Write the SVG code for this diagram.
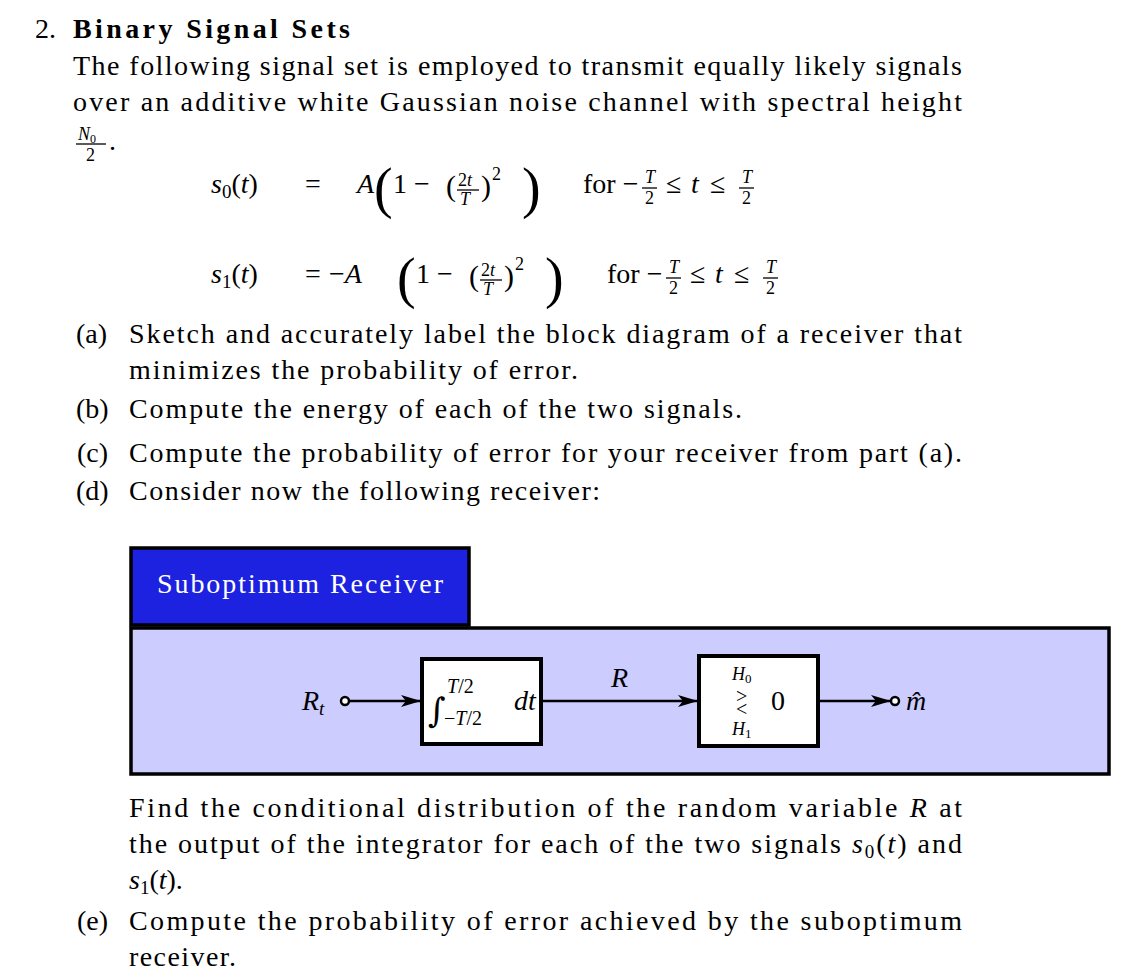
<svg xmlns="http://www.w3.org/2000/svg" width="1142" height="976" viewBox="0 0 1142 976">
<style>
text{font-family:"Liberation Serif","DejaVu Serif",serif;font-size:28px;fill:#000}
.i{font-style:italic}
.s{font-size:18px}
.b{font-size:56px}
.ln{stroke:#000;stroke-width:1.3}
.c{stroke:#000;stroke-width:2.5;fill:none}
.box{fill:#fff;stroke:#000;stroke-width:4}
</style>
<defs>
<marker id="ah" viewBox="0 0 20 12" refX="19" refY="6" markerWidth="20" markerHeight="12" markerUnits="userSpaceOnUse" orient="auto"><path d="M0,0 L20,6 L0,12 L5,6 Z" fill="#000"/></marker>
</defs>
<rect width="1142" height="976" fill="#fff"/>
<text x="35" y="38">2.</text>
<text x="73" y="38" font-weight="bold" textLength="277" lengthAdjust="spacing">Binary Signal Sets</text>
<text x="73" y="75" textLength="889" lengthAdjust="spacing">The following signal set is employed to transmit equally likely signals</text>
<text x="73" y="111" textLength="889" lengthAdjust="spacing">over an additive white Gaussian noise channel with spectral height</text>
<text x="78" y="140" class="s i">N<tspan style="font-size:12px;font-style:normal" dy="3">0</tspan></text>
<line x1="76" y1="144" x2="106" y2="144" class="ln"/>
<text x="86" y="161" class="s">2</text>
<text x="109" y="150">.</text>
<g id="eq0">
<text x="211" y="193" class="i">s<tspan style="font-style:normal;font-size:19px" dy="5">0</tspan><tspan style="font-style:normal" dy="-5">(</tspan>t<tspan style="font-style:normal">)</tspan></text>
<text x="305" y="193">=</text>
<text x="357" y="193" class="i">A</text>
<text x="374" y="207" class="b">(</text>
<text x="393" y="193">1 −</text>
<text x="446" y="196" style="font-size:30px">(</text>
<text x="458" y="186" class="s">2<tspan class="i">t</tspan></text>
<line x1="457" y1="190" x2="479" y2="190" class="ln"/>
<text x="460" y="205" class="s i">T</text>
<text x="481" y="196" style="font-size:30px">)</text>
<text x="492" y="180" class="s">2</text>
<text x="522" y="207" class="b">)</text>
<text x="583" y="193">for −</text>
<text x="645" y="183" class="s i">T</text>
<line x1="642" y1="188" x2="657" y2="188" class="ln"/>
<text x="645" y="204" class="s">2</text>
<text x="666" y="193">≤</text>
<text x="691" y="193" class="i">t</text>
<text x="710" y="193">≤</text>
<text x="742" y="183" class="s i">T</text>
<line x1="739" y1="188" x2="754" y2="188" class="ln"/>
<text x="742" y="204" class="s">2</text>
</g>
<g id="eq1">
<text x="211" y="283" class="i">s<tspan style="font-style:normal;font-size:19px" dy="5">1</tspan><tspan style="font-style:normal" dy="-5">(</tspan>t<tspan style="font-style:normal">)</tspan></text>
<text x="305" y="283">=</text>
<text x="329" y="283">−<tspan class="i">A</tspan></text>
<text x="397" y="297" class="b">(</text>
<text x="416" y="283">1 −</text>
<text x="469" y="286" style="font-size:30px">(</text>
<text x="481" y="276" class="s">2<tspan class="i">t</tspan></text>
<line x1="480" y1="280" x2="502" y2="280" class="ln"/>
<text x="483" y="295" class="s i">T</text>
<text x="504" y="286" style="font-size:30px">)</text>
<text x="515" y="270" class="s">2</text>
<text x="545" y="297" class="b">)</text>
<text x="607" y="283">for −</text>
<text x="669" y="273" class="s i">T</text>
<line x1="666" y1="278" x2="681" y2="278" class="ln"/>
<text x="669" y="294" class="s">2</text>
<text x="690" y="283">≤</text>
<text x="715" y="283" class="i">t</text>
<text x="734" y="283">≤</text>
<text x="766" y="273" class="s i">T</text>
<line x1="763" y1="278" x2="778" y2="278" class="ln"/>
<text x="766" y="294" class="s">2</text>
</g>
<text x="76" y="343">(a)</text>
<text x="129" y="343" textLength="833" lengthAdjust="spacing">Sketch and accurately label the block diagram of a receiver that</text>
<text x="129" y="379" textLength="449" lengthAdjust="spacing">minimizes the probability of error.</text>
<text x="76" y="418">(b)</text>
<text x="129" y="418" textLength="613" lengthAdjust="spacing">Compute the energy of each of the two signals.</text>
<text x="77" y="462">(c)</text>
<text x="129" y="462" textLength="833" lengthAdjust="spacing">Compute the probability of error for your receiver from part (a).</text>
<text x="76" y="500">(d)</text>
<text x="129" y="500" textLength="471" lengthAdjust="spacing">Consider now the following receiver:</text>
<g id="title">
<rect x="131" y="548" width="338" height="77" fill="#1c22e0" stroke="#000" stroke-width="3.5"/>
<text x="157" y="593" textLength="286" lengthAdjust="spacing" style="fill:#fff">Suboptimum Receiver</text>
</g>
<g id="panel"><rect x="131" y="628" width="978" height="146" fill="#ccccff" stroke="#000" stroke-width="3.5"/></g>
<g id="connectors">
<line x1="349" y1="701" x2="420" y2="701" class="c" marker-end="url(#ah)"/>
<line x1="541" y1="701" x2="697" y2="701" class="c" marker-end="url(#ah)"/>
<line x1="820" y1="701" x2="890" y2="701" class="c" marker-end="url(#ah)"/>
<circle cx="895" cy="701" r="4" fill="#fff" stroke="#000" stroke-width="2.5"/>
<circle cx="345" cy="701" r="4" fill="#fff" stroke="#000" stroke-width="2.5"/>
<text x="611" y="687" class="i">R</text>
</g>
<g id="in"><text x="302" y="710" class="i">R<tspan style="font-size:19px" dy="5">t</tspan></text></g>
<g id="integrator">
<rect x="422" y="659" width="119" height="85" class="box"/>
<text x="428" y="722" style="font-size:34px;font-family:'DejaVu Serif',serif">∫</text>
<text x="447" y="693" class="i" style="font-size:20px">T<tspan style="font-style:normal">/2</tspan></text>
<text x="444" y="725" class="i" style="font-size:20px"><tspan style="font-style:normal">−</tspan>T<tspan style="font-style:normal">/2</tspan></text>
<text x="514" y="710" class="i">dt</text>
</g>
<g id="decision">
<rect x="699" y="656" width="119" height="90" class="box"/>
<text x="732" y="680" class="s i">H<tspan style="font-size:13px;font-style:normal" dy="3">0</tspan></text>
<text x="736" y="703" style="font-size:20px">&gt;</text>
<text x="736" y="716" style="font-size:20px">&lt;</text>
<text x="771" y="710">0</text>
<text x="732" y="735" class="s i">H<tspan style="font-size:13px;font-style:normal" dy="3">1</tspan></text>
</g>
<g id="out"><text x="906" y="710" class="i">m̂</text></g>
<text x="129" y="817" textLength="833" lengthAdjust="spacing">Find the conditional distribution of the random variable <tspan class="i">R</tspan> at</text>
<text x="129" y="853" textLength="833" lengthAdjust="spacing">the output of the integrator for each of the two signals <tspan class="i">s</tspan><tspan style="font-size:19px" dy="5">0</tspan><tspan dy="-5">(</tspan><tspan class="i">t</tspan>) and</text>
<text x="129" y="889"><tspan class="i">s</tspan><tspan style="font-size:19px" dy="5">1</tspan><tspan dy="-5">(</tspan><tspan class="i">t</tspan>).</text>
<text x="77" y="930">(e)</text>
<text x="129" y="930" textLength="833" lengthAdjust="spacing">Compute the probability of error achieved by the suboptimum</text>
<text x="129" y="966" textLength="107" lengthAdjust="spacing">receiver.</text>
</svg>
